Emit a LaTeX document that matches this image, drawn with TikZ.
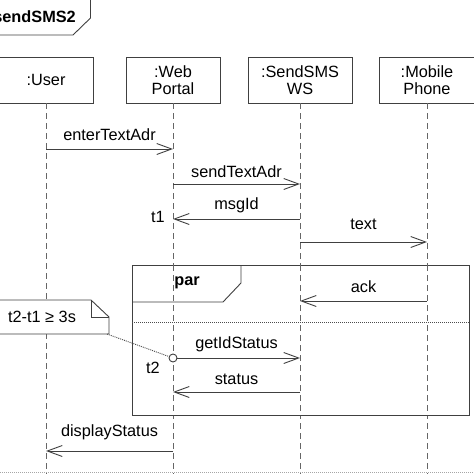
\documentclass[tikz,border=0pt]{standalone}
\usepackage{fontspec}
\setmainfont{Liberation Sans}
\usetikzlibrary{arrows.meta}
\begin{document}
\begin{tikzpicture}[x=1pt,y=-1pt,
  every node/.style={font=\fontsize{16.3}{18}\selectfont},
  ln/.style={draw=black!75,line width=0.9pt},
  life/.style={draw=black!60,line width=1pt,dash pattern=on 6pt off 4pt},
  head/.style={draw=black!75,line width=0.9pt,fill=white,minimum width=94pt,minimum height=46pt,align=center,inner sep=0pt,font=\fontsize{16.3}{17}\selectfont},
  msg/.style={draw=black!75,line width=0.9pt,-{Straight Barb[length=15pt,width=11pt,line width=0.9pt]}},
  lbl/.style={inner sep=0pt}]
\useasboundingbox (0,0) rectangle (474,474);
% outer frame bottom (dotted)
\draw[black!35,line width=1pt,dash pattern=on 1pt off 1pt] (0,472) -- (474,472);
% frame label
\draw[ln] (90.5,-2) -- (90.5,18) -- (73,35) -- (-2,35);
\node[lbl,font=\fontsize{16.3}{18}\selectfont\bfseries,anchor=base east] (title) at (76,22.5) {sendSMS2};
% heads
\node[head] (u) at (46,80) {:User};
\node[head] (w) at (173,80) {:Web\\Portal};
\node[head,minimum width=104pt] (s) at (300,80) {:SendSMS\\WS};
\node[head,minimum width=96pt] (m) at (427,80) {:Mobile\\Phone};
% lifeline ends
\coordinate (ue) at (46,474);
\coordinate (we) at (173,474);
\coordinate (se) at (300,474);
\coordinate (me) at (427,474);
\draw[life] (u.south) -- (ue);
\draw[life] (w.south) -- (we);
\draw[life] (s.south) -- (se);
\draw[life] (m.south) -- (me);
% coordinates on lifelines
\coordinate (u1) at (46,149); \coordinate (w1) at (173,149);
\coordinate (w2) at (173,184); \coordinate (s2) at (300,184);
\coordinate (s3) at (300,219); \coordinate (w3) at (173,219);
\coordinate (s4) at (300,242); \coordinate (m4) at (427,242);
\coordinate (m5) at (427,301); \coordinate (s5) at (300,301);
\coordinate (w6) at (173,358); \coordinate (s6) at (300,358);
\coordinate (s7) at (300,392); \coordinate (w7) at (173,392);
\coordinate (w8) at (173,451); \coordinate (u8) at (46,451);
% par fragment
\draw[ln,fill=white] (132,265) rectangle (469,415);
\draw[ln] (241,265) -- (241,283) -- (223,302) -- (132,302);
\node[lbl,font=\fontsize{16.3}{18}\selectfont\bfseries] (par) at (187,283) {par};
\draw[black!70,line width=0.9pt,dash pattern=on 1pt off 1pt] (132,322) -- (469,322);
\draw[life] (173,265) -- (173,415);
\draw[life] (300,265) -- (300,415);
\draw[life] (427,265) -- (427,415);
% messages
\draw[msg] (u1) -- (w1) node[lbl,midway,above=8pt] (l1) {enterTextAdr};
\draw[msg] (w2) -- (s2) node[lbl,midway,above=6pt] (l2) {sendTextAdr};
\draw[msg] (s3) -- (w3) node[lbl,midway,above=6pt] (l3) {msgId};
\draw[msg] (s4) -- (m4) node[lbl,midway,above=12pt] (l4) {text};
\draw[msg] (m5) -- (s5) node[lbl,midway,above=8pt] (l5) {ack};
\draw[msg] (w6) -- (s6) node[lbl,midway,above=6pt] (l6) {getIdStatus};
\draw[msg] (s7) -- (w7) node[lbl,midway,above=7pt] (l7) {status};
\draw[msg] (w8) -- (u8) node[lbl,midway,above=11pt] (l8) {displayStatus};
\node[lbl] (t1) at (158,217) {t1};
\node[lbl] (t2) at (153,368) {t2};
% note
\draw[ln,fill=white] (-2,300) -- (91,300) -- (109,317) -- (109,334) -- (-2,334);
\draw[ln] (91,300) -- (91,317) -- (109,317);
\node[lbl] (note) at (42,317) {t2-t1 ≥ 3s};
\node[circle,draw=black!75,line width=0.9pt,fill=white,minimum size=8pt,inner sep=0pt] (c) at (w6) {};
\draw[black!70,line width=0.9pt,dash pattern=on 1pt off 1pt] (107,334) -- (c);
\end{tikzpicture}
\end{document}
